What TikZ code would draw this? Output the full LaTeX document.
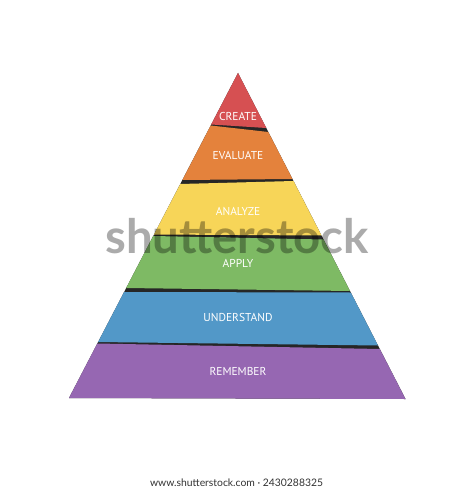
\documentclass[tikz,border=0pt]{standalone}
\usepackage{fontspec}
\setmainfont{PT Sans}
\newfontfamily\markfont{Lato}
\definecolor{createred}{RGB}{214,80,82}
\definecolor{evalorange}{RGB}{228,130,60}
\definecolor{analyzeyellow}{RGB}{247,213,88}
\definecolor{applygreen}{RGB}{126,186,100}
\definecolor{understandblue}{RGB}{82,152,200}
\definecolor{rememberpurple}{RGB}{150,103,178}
\tikzset{
	level/.style={text=white,font=\fontsize{11.5}{13}\selectfont,inner sep=1pt}
}

\begin{document}
\begin{tikzpicture}[x=1bp,y=-1bp]
			\useasboundingbox[fill=white] (0,0) rectangle (474,489);
			\coordinate (apex) at (238,73);
			\coordinate (base_l) at (69,398);
			\coordinate (base_r) at (405.5,399);
			
			% black body, shows through the gaps between the bands
			\fill[black!85] (apex)--(base_l)--(base_r)--cycle;
			
			\fill[createred] (apex)--(211.2,124.5)--(266.3,128)--cycle;
			\fill[evalorange] (210.7,125.5)--(268.3,132)--(292.5,179)--(182.4,180)--cycle;
			\fill[analyzeyellow] (180.3,184)--(293.5,181)--(321.5,235.5)--(154.0,234.5)--cycle;
			\fill[applygreen] (153.2,236)--(323.5,239.5)--(350.0,291)--(126.2,288)--cycle;
			\fill[understandblue] (124.1,292)--(350.8,292.5)--(378.0,345.5)--(98.1,342)--cycle;
			\fill[rememberpurple] (97.3,343.5)--(379.8,349)--(base_r)--(base_l)--cycle;
			
			\node[level] (create) at (238,116) {CREATE};
			\node[level] (evaluate) at (238,155) {EVALUATE};
			\node[level] (analyze) at (238,211) {ANALYZE};
			\node[level] (apply) at (238,263) {APPLY};
			\node[level] (understand) at (238,317) {UNDERSTAND};
			\node[level] (remember) at (238,371) {REMEMBER};
			
			\node[text=black,opacity=0.33,font=\markfont\bfseries\fontsize{47.5}{50}\selectfont,inner sep=0pt,anchor=base] (watermark) at (237,253) {shutterstock};
			\node[text=black!80,font=\markfont\fontsize{10.4}{12}\selectfont,inner sep=0pt,anchor=base] (credit) at (236.5,486) {www.shutterstock.com · 2430288325};
		\end{tikzpicture}
\end{document}
